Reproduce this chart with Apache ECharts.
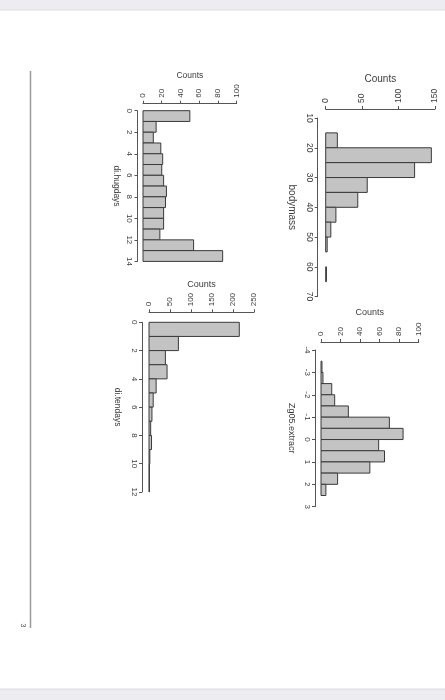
<!DOCTYPE html>
<html>
<head>
<meta charset="utf-8">
<script src="https://cdn.jsdelivr.net/npm/echarts@6/dist/echarts.min.js"></script>
<style>
  html, body { margin: 0; padding: 0; background: #fff; }
  #chart { width: 445px; height: 700px; }
</style>
</head>
<body>
<div id="chart"></div>
<script>
const bodymassEdges  = [15, 20, 25, 30, 35, 40, 45, 50, 55, 60, 65]
const bodymassCounts = [16, 145, 122, 57, 44, 14, 7, 2, 0, 1]

const zgEdges  = [-3.5, -3, -2.5, -2, -1.5, -1, -0.5, 0, 0.5, 1, 1.5, 2, 2.5]
const zgCounts = [1, 2, 11, 14, 28, 70, 84, 59, 65, 50, 17, 5]

const hugEdges  = [0, 1, 2, 3, 4, 5, 6, 7, 8, 9, 10, 11, 12, 13, 14]
const hugCounts = [50, 14, 11, 19, 21, 20, 22, 25, 24, 22, 22, 18, 54, 85]

const tenEdges  = [0, 1, 2, 3, 4, 5, 6, 7, 8, 9, 10, 11, 12]
const tenCounts = [215, 70, 39, 43, 17, 10, 7, 4, 6, 2, 1, 1]

const FONT = 'Liberation Sans'
const INK = '#3c3c3c'

const toBins = (edges, counts) => counts.map((n, i) => [edges[i], edges[i + 1], n])

function histItem(params, api) {
  const lo = api.value(0), hi = api.value(1), n = api.value(2)
  if (!n) return null
  const p0 = api.coord([0, lo])
  const p1 = api.coord([n, hi])
  return {
    type: 'rect',
    shape: { x: p0[0], y: p0[1], width: p1[0] - p0[0], height: p1[1] - p0[1] },
    style: { fill: '#c3c3c3', stroke: '#3a3a3a', lineWidth: 1 }
  }
}

// one panel per histogram: counts run left->right on top, variable runs down the left
const panels = [
  { grid: { left: 325.7, top: 118, width: 109.3, height: 178.6 },
    count: [0, 150, 50], cntOff: 9, cntGap: 25, cntFont: 10,
    varName: 'bodymass', v: [10, 70, 10], varOff: 8, varGap: 21, varFont: 10, tickFont: 8.5,
    bins: toBins(bodymassEdges, bodymassCounts) },
  { grid: { left: 321, top: 350, width: 97.7, height: 156.7 },
    count: [0, 100, 20], cntOff: 8, cntGap: 25, cntFont: 9,
    varName: 'Zg05.extracr', v: [-4, 3, 1], varOff: 6, varGap: 19, varFont: 9, tickFont: 8,
    bins: toBins(zgEdges, zgCounts) },
  { grid: { left: 143, top: 110.7, width: 93.7, height: 150.7 },
    count: [0, 100, 20], cntOff: 7, cntGap: 21, cntFont: 8.5,
    varName: 'di.hugdays', v: [0, 14, 2], varOff: 5.5, varGap: 17, varFont: 8.5, tickFont: 8,
    bins: toBins(hugEdges, hugCounts) },
  { grid: { left: 149, top: 322.3, width: 105, height: 169.7 },
    count: [0, 250, 50], cntOff: 10, cntGap: 23, cntFont: 9,
    varName: 'di.tendays', v: [0, 12, 2], varOff: 7, varGap: 20, varFont: 8.5, tickFont: 8,
    bins: toBins(tenEdges, tenCounts) }
]

const axisLine = { onZero: false, lineStyle: { color: '#555', width: 1 } }
const axisTick = { length: 3, lineStyle: { color: '#555', width: 1 } }

const option = {
  animation: false,
  backgroundColor: '#fff',
  grid: panels.map(p => p.grid),
  xAxis: panels.map((p, i) => ({
    gridIndex: i, type: 'value', position: 'top',
    min: p.count[0], max: p.count[1], interval: p.count[2],
    offset: p.cntOff,
    name: 'Counts', nameLocation: 'middle', nameGap: p.cntGap,
    nameTextStyle: { fontFamily: FONT, fontSize: p.cntFont, color: INK },
    axisLine, axisTick, splitLine: { show: false },
    axisLabel: { rotate: -90, margin: 6, fontFamily: FONT, fontSize: p.tickFont, color: INK }
  })),
  yAxis: panels.map((p, i) => ({
    gridIndex: i, type: 'value', position: 'left', inverse: true,
    min: p.v[0], max: p.v[1], interval: p.v[2],
    offset: p.varOff,
    name: p.varName, nameLocation: 'middle', nameGap: p.varGap, nameRotate: -90,
    nameTextStyle: { fontFamily: FONT, fontSize: p.varFont, color: INK },
    axisLine, axisTick, splitLine: { show: false },
    axisLabel: { rotate: -90, margin: 4, fontFamily: FONT, fontSize: p.tickFont, color: INK }
  })),
  series: panels.map((p, i) => ({
    type: 'custom', xAxisIndex: i, yAxisIndex: i,
    renderItem: histItem, encode: { x: 2, y: [0, 1] },
    data: p.bins, silent: true
  })),
  graphic: [
    { type: 'rect', shape: { x: 0, y: 0, width: 445, height: 10 }, style: { fill: '#ececf1' } },
    { type: 'line', shape: { x1: 0, y1: 10, x2: 445, y2: 10 }, style: { stroke: '#dcdce2', lineWidth: 1 } },
    { type: 'rect', shape: { x: 0, y: 689, width: 445, height: 11 }, style: { fill: '#ececf1' } },
    { type: 'line', shape: { x1: 0, y1: 689, x2: 445, y2: 689 }, style: { stroke: '#dcdce2', lineWidth: 1 } },
    { type: 'line', shape: { x1: 30.5, y1: 71, x2: 30.5, y2: 628 }, style: { stroke: '#9a9a9a', lineWidth: 1.5 } },
    { type: 'text', x: 22.5, y: 625.5, rotation: -Math.PI / 2,
      style: { text: '3', fontFamily: FONT, fontSize: 7, fill: '#555', align: 'center', verticalAlign: 'middle' } }
  ]
}

echarts.init(document.getElementById('chart')).setOption(option)
</script>
</body>
</html>
